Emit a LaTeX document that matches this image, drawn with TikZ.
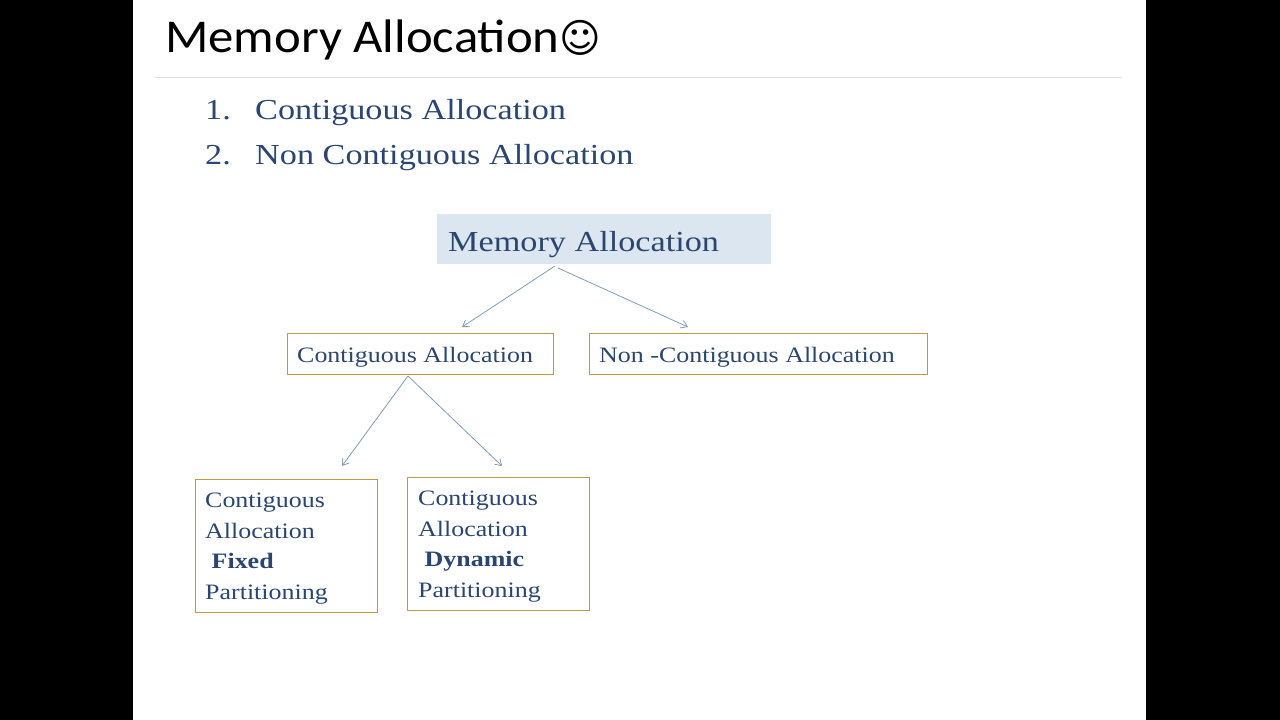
\documentclass[tikz,border=0pt]{standalone}
\usepackage{fontspec}
\setmainfont{Liberation Serif}[FakeStretch=1.18]
\newfontfamily\titlefont{Carlito}[FakeStretch=1.08]
\newfontfamily\symfont{DejaVu Sans}
\usetikzlibrary{arrows.meta}
\definecolor{txt}{HTML}{2A4670}
\definecolor{gold}{HTML}{C09A3E}
\definecolor{arr}{HTML}{7F9DB9}
\definecolor{fillb}{HTML}{DCE6F0}
\tikzset{
 boxg/.style={draw=gold,line width=0.8pt,inner sep=0pt},
 conn/.style={draw=arr,line width=0.8pt,-{Straight Barb[length=6pt,width=8pt]}},
 small/.style={font=\fontsize{22}{30.5}\selectfont,text=txt}
}
\begin{document}
\begin{tikzpicture}[x=1pt,y=-1pt]
\fill[black] (0,0) rectangle (1280,720);
\fill[white] (133,0) rectangle (1146,720);
\node[anchor=base west,inner sep=0pt,font=\titlefont\fontsize{47}{50}\selectfont] (title) at (165,52) {Memory Allocation{\symfont\fontsize{40}{40}\selectfont☺}};
\draw[gray!25,line width=0.8pt] (155,77) -- (1122,77);
\node[anchor=base west,inner sep=0pt,font=\fontsize{29}{34}\selectfont,text=txt] (n1) at (205,119) {1.};
\node[anchor=base west,inner sep=0pt,font=\fontsize{29}{34}\selectfont,text=txt] (l1) at (255,119) {Contiguous Allocation};
\node[anchor=base west,inner sep=0pt,font=\fontsize{29}{34}\selectfont,text=txt] (n2) at (205,164) {2.};
\node[anchor=base west,inner sep=0pt,font=\fontsize{29}{34}\selectfont,text=txt] (l2) at (255,164) {Non Contiguous Allocation};

\node[fill=fillb,minimum width=334pt,minimum height=50pt,inner sep=0pt] (ma) at (604,239) {};
\node[anchor=base west,inner sep=0pt,font=\fontsize{29}{34}\selectfont,text=txt] at (448,251) {Memory Allocation};

\node[boxg,minimum width=266pt,minimum height=41pt] (ca) at (420,353.5) {};
\node[anchor=base west,inner sep=0pt,small] at (297,362) {Contiguous Allocation};
\node[boxg,minimum width=338pt,minimum height=41pt] (nca) at (758,353.5) {};
\node[anchor=base west,inner sep=0pt,small] at (599,362) {Non -Contiguous Allocation};

\node[boxg,minimum width=182pt,minimum height=133pt] (fx) at (286,545.5) {};
\node[anchor=north west,inner sep=0pt,small,align=left] at (205,493) {Contiguous\\Allocation\\\ \textbf{Fixed}\\Partitioning};
\node[boxg,minimum width=182pt,minimum height=133pt] (dy) at (498,543.5) {};
\node[anchor=north west,inner sep=0pt,small,align=left] at (418,491) {Contiguous\\Allocation\\\ \textbf{Dynamic}\\Partitioning};

\coordinate (a1) at (555,266);
\coordinate (a2) at (558,268);
\coordinate (c1) at (408,376);
\draw[conn] (a1) -- (462,327);
\draw[conn] (a2) -- (688,327);
\draw[conn] (c1) -- (342,466);
\draw[conn] (c1) -- (502,466);
\end{tikzpicture}
\end{document}
